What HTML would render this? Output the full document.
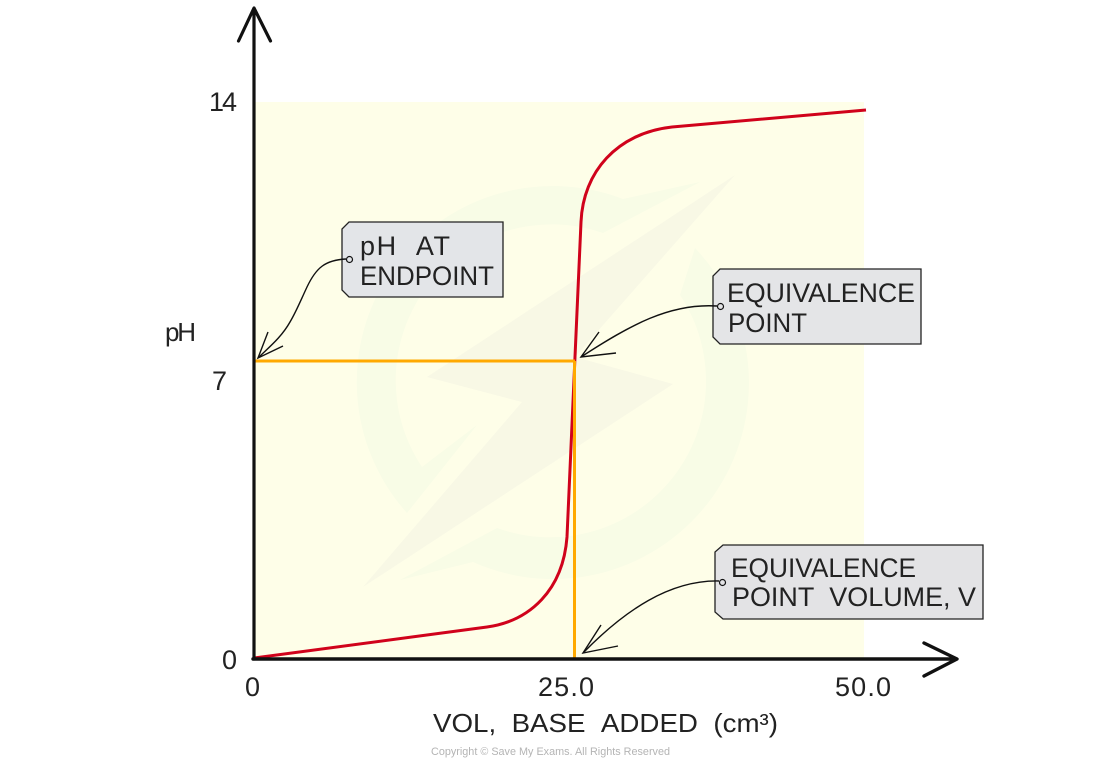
<!DOCTYPE html>
<html>
<head>
<meta charset="utf-8">
<style>
html,body{margin:0;padding:0;background:#fff;width:1100px;height:762px;overflow:hidden}
svg{display:block}
text{font-family:"Liberation Sans",sans-serif;fill:#222}
</style>
</head>
<body>
<svg width="1100" height="762" viewBox="0 0 1100 762" xmlns="http://www.w3.org/2000/svg">
<!-- plot background -->
<rect x="254" y="102" width="610" height="557" fill="#fefee8"/>
<!-- watermark -->
<path d="M407 513A196 196 0 0 1 623 199L700 182L603 233A156 156 0 0 0 422 467L477 425Z" fill="#f8fce6"/>
<path d="M695 248A196 196 0 0 1 473 562L400 580L497 528A156 156 0 0 0 680 295Z" fill="#f8fce6"/>
<path d="M735 175L427 377L522 402L363 587L673 384L575 357Z" fill="#f8f8e5"/>
<!-- curve -->
<path d="M254 658L487 627C530 621 563 590 567 537L581 222C583 172 617 133 672 127L866 110" stroke="#d0021b" stroke-width="3" fill="none"/>
<!-- orange guide lines -->
<path d="M254 361H575M574.500 361V659" stroke="#ffa900" stroke-width="3" fill="none"/>
<!-- axes -->
<path d="M254 659V9M238.500 41L254 8L270.500 41" stroke="#111" stroke-width="3.200" fill="none" stroke-linecap="round" stroke-linejoin="round"/>
<path d="M253 659H956M924 643L957 659L924 676" stroke="#111" stroke-width="3.400" fill="none" stroke-linecap="round" stroke-linejoin="round"/>
<!-- callouts -->
<path d="M349 222H503V297H349L342 290V229Z" fill="#e3e5e8" stroke="#222" stroke-width="1.300"/>
<path d="M720 269H921V344H720L713 337V276Z" fill="#e4e5e7" stroke="#222" stroke-width="1.300"/>
<path d="M723 545H983V619H723L715 612V552Z" fill="#e3e3e5" stroke="#222" stroke-width="1.300"/>
<!-- callout arrows -->
<g fill="none" stroke="#111" stroke-width="1.400">
<circle cx="349.500" cy="259.500" r="3" stroke-width="1.200"/>
<path d="M346 259C325 260 316 268 307 287C300 302 296 312 290 322C281 338 268 348 258 358"/>
<path d="M268 332L258 358L283 346"/>
<circle cx="720.500" cy="306.500" r="3" stroke-width="1.200"/>
<path d="M717 306C670 303 630 325 581 357"/>
<path d="M599 332L581 357L616 353"/>
<circle cx="722.500" cy="582.500" r="3" stroke-width="1.200"/>
<path d="M719 581C670 580 625 610 583 653"/>
<path d="M601 625L583 653L618 646"/>
</g>
<!-- callout text -->
<text x="360" y="255" font-size="27" textLength="90">pH&#160;&#160;AT</text>
<text x="360" y="285" font-size="27" textLength="134" lengthAdjust="spacingAndGlyphs">ENDPOINT</text>
<text x="727" y="302" font-size="27" textLength="188" lengthAdjust="spacingAndGlyphs">EQUIVALENCE</text>
<text x="728" y="332" font-size="27" textLength="79" lengthAdjust="spacingAndGlyphs">POINT</text>
<text x="731" y="577" font-size="27" textLength="185" lengthAdjust="spacingAndGlyphs">EQUIVALENCE</text>
<text x="732" y="606" font-size="27" textLength="244" lengthAdjust="spacingAndGlyphs">POINT&#160;&#160;VOLUME, V</text>
<!-- axis labels -->
<text x="209" y="111" font-size="27" textLength="28">14</text>
<text x="212" y="390" font-size="27">7</text>
<text x="222" y="669" font-size="27">0</text>
<text x="165" y="341" font-size="26" textLength="31">pH</text>
<text x="245" y="696" font-size="27">0</text>
<text x="538" y="696" font-size="27" textLength="56">25.0</text>
<text x="835" y="696" font-size="27" textLength="56">50.0</text>
<text x="433" y="732" font-size="26" textLength="345" lengthAdjust="spacingAndGlyphs">VOL,&#160;&#160;BASE&#160;&#160;ADDED&#160;&#160;(cm³)</text>
<text x="431" y="755" font-size="11" textLength="239" lengthAdjust="spacingAndGlyphs" style="fill:#b4b4b4">Copyright © Save My Exams. All Rights Reserved</text>
</svg>
</body>
</html>
